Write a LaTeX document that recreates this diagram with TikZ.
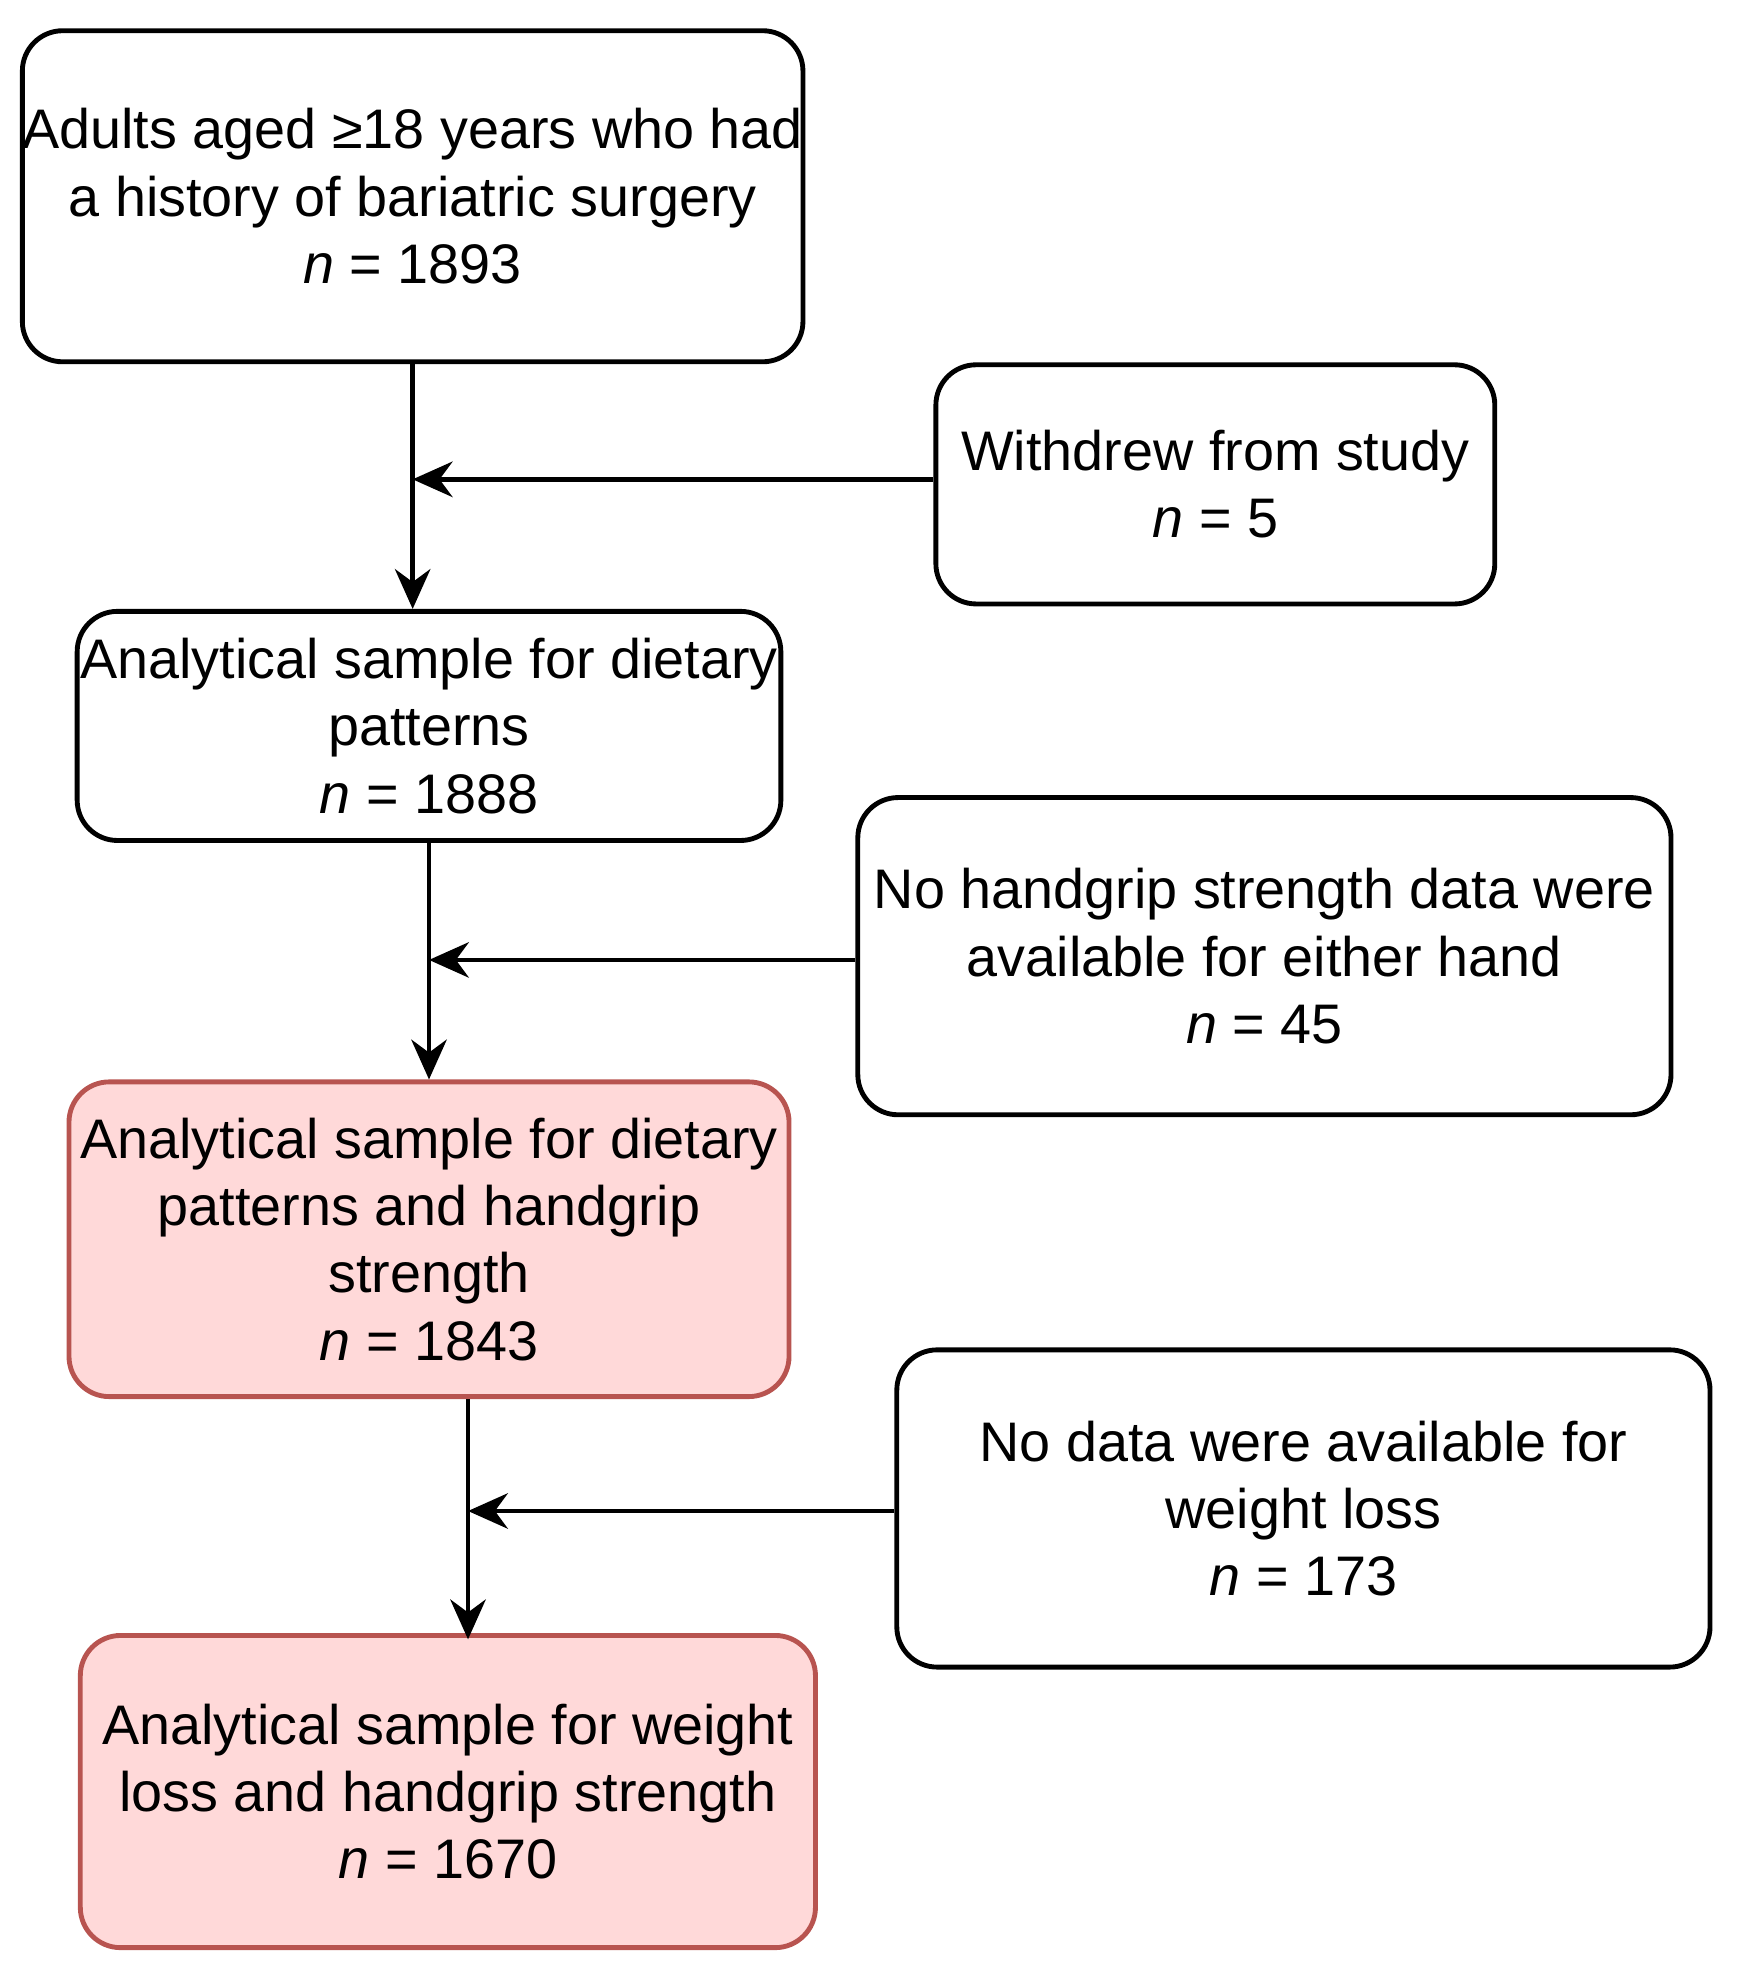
\documentclass[tikz,border=0pt]{standalone}
\usepackage{fontspec}
\setmainfont{Liberation Sans}
\begin{document}
\begin{tikzpicture}[x=0.01cm,y=-0.01cm,
 box/.style={draw=black,line width=1.1pt,rounded corners=0.32cm,align=center,inner sep=0pt,
   font=\fontsize{12.6}{15.2}\selectfont},
 red/.style={box,fill=red!15!white,draw={rgb,255:red,184;green,84;blue,80}},
 arr/.style={line width=1.1pt,-{Stealth[length=9pt,width=8pt]}}]
\useasboundingbox (0,0) rectangle (1380,1573);
\usetikzlibrary{arrows.meta}
\node[box,minimum width=6.2cm,minimum height=2.63cm] (b1) at (328,156) {Adults aged ≥18 years who had\\a history of bariatric surgery\\\textit{n} = 1893};
\node[box,minimum width=4.44cm,minimum height=1.9cm] (w) at (966,385) {Withdrew from study\\\textit{n} = 5};
\node[box,minimum width=5.59cm,minimum height=1.82cm] (b2) at (341,577) {Analytical sample for dietary\\patterns\\\textit{n} = 1888};
\node[box,minimum width=6.46cm,minimum height=2.52cm] (h) at (1005,760) {No handgrip strength data were\\available for either hand\\\textit{n} = 45};
\node[red,minimum width=5.72cm,minimum height=2.5cm] (b3) at (341,985) {Analytical sample for dietary\\patterns and handgrip\\strength\\\textit{n} = 1843};
\node[box,minimum width=6.46cm,minimum height=2.52cm] (d) at (1036,1199) {No data were available for\\weight loss\\\textit{n} = 173};
\node[red,minimum width=5.84cm,minimum height=2.48cm] (b4) at (356,1424) {Analytical sample for weight\\loss and handgrip strength\\\textit{n} = 1670};
\coordinate (j1) at (328,381);
\coordinate (j2) at (341,763);
\coordinate (t3) at (372,1112);
\coordinate (j3) at (372,1201);
\coordinate (e3) at (372,1303);
\draw[arr] (b1.south) -- (b2.north -| b1.south);
\draw[arr] (w.west |- j1) -- (j1);
\draw[arr] (b2.south) -- (b3.north);
\draw[arr] (h.west |- j2) -- (j2);
\draw[arr] (t3) -- (e3);
\draw[arr] (d.west |- j3) -- (j3);
\end{tikzpicture}
\end{document}
